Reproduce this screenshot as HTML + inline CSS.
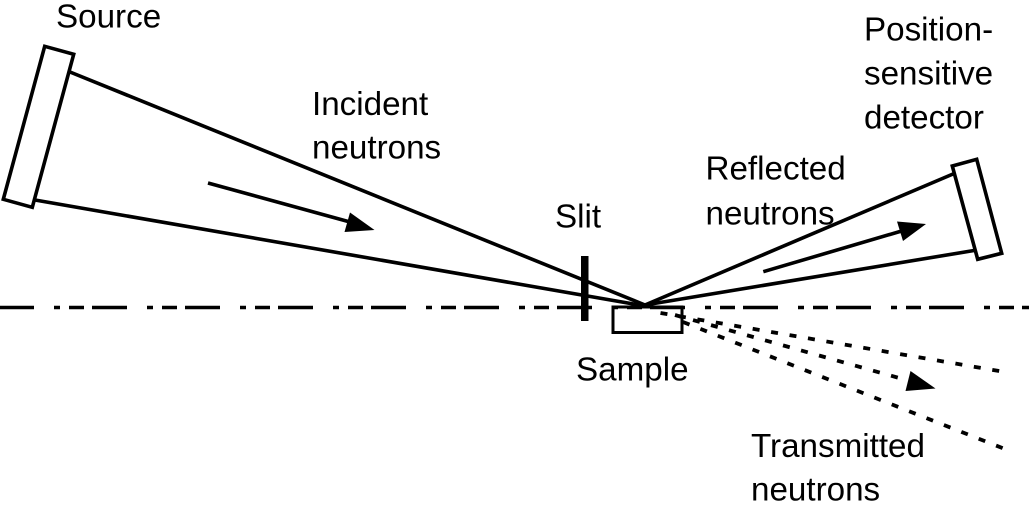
<!DOCTYPE html>
<html>
<head>
<meta charset="utf-8">
<style>
html,body{margin:0;padding:0;background:#fff;width:1029px;height:508px;overflow:hidden}
svg{display:block}
text{font-family:"Liberation Sans",sans-serif;font-size:33.2px;fill:#000}
</style>
</head>
<body>
<svg width="1029" height="508" viewBox="0 0 1029 508" xmlns="http://www.w3.org/2000/svg">
<rect width="1029" height="508" fill="#fff"/>
<g fill="none" stroke="#000" stroke-width="3.6">
<!-- axis -->
<line x1="-1" y1="307.5" x2="1029" y2="307.5" stroke-width="3.6" stroke-dasharray="35 20 6 9 15 8"/>
<!-- source -->
<polygon points="44.7,46.3 73.7,54.3 32.3,207.3 3.3,199.3"/>
<line x1="70" y1="72" x2="645" y2="305"/>
<line x1="35" y1="200" x2="645" y2="306"/>
<line x1="208" y1="183" x2="350" y2="222"/>
<!-- sample -->
<rect x="613" y="307" width="69" height="25.5" stroke-width="3"/>
<!-- detector -->
<polygon points="952.3,166 976.7,159.3 1001.7,253.3 977.7,259.3"/>
<line x1="645" y1="305" x2="953" y2="174"/>
<line x1="645" y1="305" x2="974" y2="250.5"/>
<line x1="763.3" y1="271.7" x2="905" y2="230"/>
<!-- transmitted -->
<g stroke-dasharray="7 11.7" stroke-width="3.8">
<line x1="660.5" y1="313" x2="1000" y2="371.2"/>
<line x1="675" y1="315" x2="908" y2="380.5"/>
<line x1="683" y1="322" x2="1003" y2="448.3"/>
</g>
</g>
<!-- slit -->
<rect x="581" y="256" width="7.5" height="65" fill="#000"/>
<!-- arrowheads -->
<polygon points="350,212.5 344.5,232 374.5,230" fill="#000"/>
<polygon points="897,221.5 903,241 926,224" fill="#000"/>
<polygon points="910.5,371 905.5,391 935.5,388.5" fill="#000"/>
<!-- labels -->
<text x="56" y="27.5">Source</text>
<text x="312" y="115">Incident</text>
<text x="312" y="158.5">neutrons</text>
<text x="555" y="227.5">Slit</text>
<text x="576" y="380.5">Sample</text>
<text x="864" y="40.5">Position-</text>
<text x="864" y="84.5">sensitive</text>
<text x="864" y="128.5">detector</text>
<text x="705.5" y="179.5">Reflected</text>
<text x="705.5" y="224.5">neutrons</text>
<text x="751" y="457">Transmitted</text>
<text x="751" y="500.5">neutrons</text>
</svg>
</body>
</html>
